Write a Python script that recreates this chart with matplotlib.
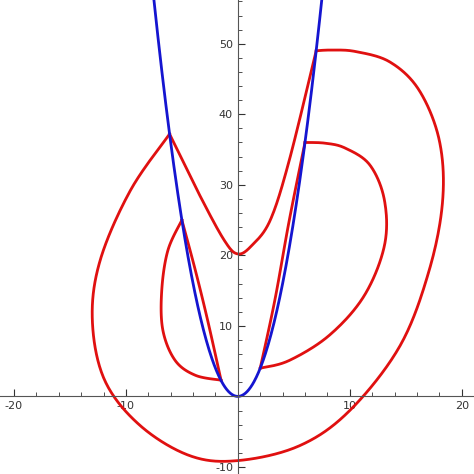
import numpy as np
import matplotlib.pyplot as plt
from matplotlib.ticker import MultipleLocator

# red curves, points (x, y)
outer_x = [-6.1, -9.6, -12.3, -13.0, -11.9, -8.75, -4.3, 0.0, 5.5, 10.0, 14.5, 17.1, 18.3, 18.0, 16.2, 13.6, 10.5, 8.3, 7.0]
outer_y = [37.2, 29.2, 19.3, 10.8, 2.3, -4.1, -8.4, -9.1, -7.0, -2.0, 7.2, 17.9, 27.8, 36.3, 43.4, 47.4, 48.9, 49.1, 49.0]
top_x = [-6.1, -3.4, -1.2, 0.0, 1.25, 2.9, 4.6, 7.0]
top_y = [37.2, 28.5, 22.1, 20.2, 21.4, 25.0, 33.5, 49.0]
lloop_x = [-5.0, -6.25, -6.8, -6.7, -5.6, -3.8, -1.5]
lloop_y = [25.0, 20.7, 15.0, 9.4, 5.1, 3.0, 2.3]
lline_x = [-5.0, -3.8, -2.7, -1.5]
lline_y = [25.0, 17.9, 10.8, 2.3]
rline_x = [2.0, 3.3, 4.6, 6.0]
rline_y = [4.0, 13.6, 25.0, 36.0]
rloop_x = [2.0, 4.6, 8.2, 11.3, 13.1, 13.1, 11.8, 9.6, 7.8, 6.0]
rloop_y = [4.0, 5.1, 8.7, 14.3, 21.4, 27.8, 32.8, 35.2, 35.9, 36.0]


def smooth(xs, ys, n=20):
    p = np.column_stack([xs, ys]).astype(float)
    p = np.vstack([p[0], p, p[-1]])
    out = []
    t = np.linspace(0, 1, n, endpoint=False)[:, None]
    for i in range(1, len(p) - 2):
        p0, p1, p2, p3 = p[i - 1], p[i], p[i + 1], p[i + 2]
        out.append(0.5 * (2 * p1 + (-p0 + p2) * t + (2 * p0 - 5 * p1 + 4 * p2 - p3) * t**2
                          + (-p0 + 3 * p1 - 3 * p2 + p3) * t**3))
    out.append(p[-2][None, :])
    out = np.vstack(out)
    return out[:, 0], out[:, 1]


fig, ax = plt.subplots(figsize=(4.74, 4.74), dpi=100)
fig.subplots_adjust(0, 0, 1, 1)
red = '#e01010'
for xs, ys in [(outer_x, outer_y), (top_x, top_y), (lloop_x, lloop_y),
               (lline_x, lline_y), (rline_x, rline_y), (rloop_x, rloop_y)]:
    sx, sy = smooth(xs, ys)
    ax.plot(sx, sy, color=red, lw=2)

px = np.linspace(-7.6, 7.6, 300)
ax.plot(px, px**2, color='#1515d0', lw=2)

ax.set_xlim(-21.25, 21.1)
ax.set_ylim(-11, 56.2)
for s in ['top', 'right']:
    ax.spines[s].set_visible(False)
ax.spines['left'].set_position(('data', 0))
ax.spines['bottom'].set_position(('data', 0))
for s in ['left', 'bottom']:
    ax.spines[s].set_color('#555555')
ax.xaxis.set_major_locator(MultipleLocator(10))
ax.xaxis.set_minor_locator(MultipleLocator(2))
ax.yaxis.set_major_locator(MultipleLocator(10))
ax.yaxis.set_minor_locator(MultipleLocator(2))
ax.set_xticks([-20, -10, 10, 20])
ax.set_xticklabels(['-20', '-10', '10', '20'])
ax.set_yticks([-10, 10, 20, 30, 40, 50])
ax.set_yticklabels(['-10', '10', '20', '30', '40', '50'])
ax.tick_params(direction='in', which='both', labelsize=8, colors='#333333')
ax.tick_params(which='major', length=5)
ax.tick_params(which='minor', length=3)
ax.set_facecolor('white')
fig.savefig('out.png', dpi=100)
